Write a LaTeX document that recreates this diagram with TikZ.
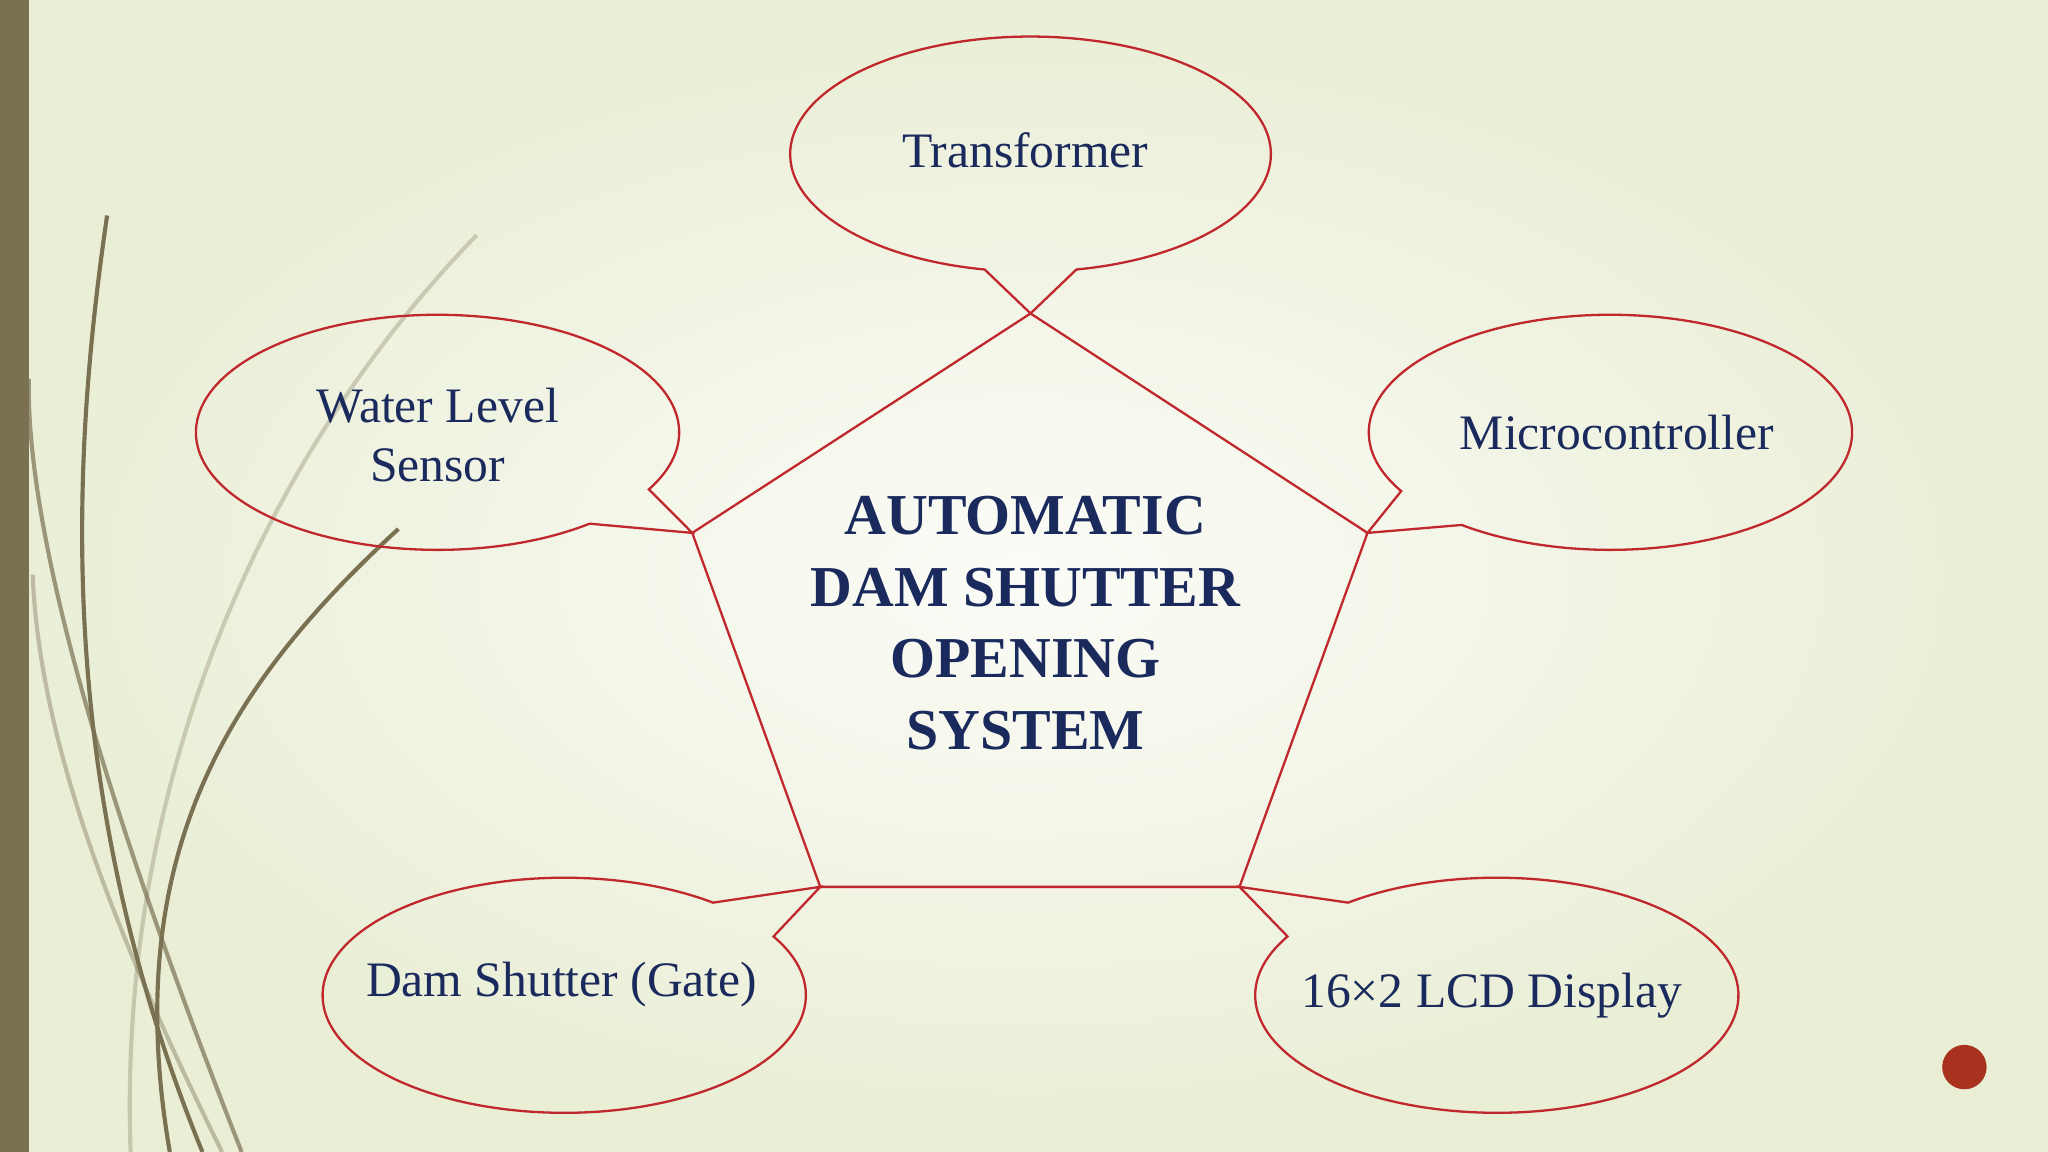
\documentclass[tikz,border=0pt]{standalone}
\usepackage{fontspec}
\setmainfont{Liberation Serif}
\begin{document}
\definecolor{bgcol}{HTML}{E9EED5}
\definecolor{bgmid}{HTML}{FBFCF7}
\definecolor{barcol}{HTML}{7A7052}
\definecolor{redline}{HTML}{C0282D}
\definecolor{navy}{HTML}{1B2A5C}
\definecolor{dotcol}{HTML}{A8321E}
\begin{tikzpicture}[x=0.01cm, y=-0.01cm,
    callout/.style={draw=redline, line width=0.5pt},
    label/.style={text=navy, font=\fontsize{10.8}{13}\selectfont, align=center},
    title/.style={text=navy, font=\fontsize{12.6}{15.6}\selectfont\bfseries, align=center},
    stem/.style={draw=barcol, line width=0.9pt}]
  % background
  \shade[inner color=bgmid, outer color=bgcol] (0,0) rectangle (1568,882);
  \useasboundingbox (0,0) rectangle (1568,882);
  \fill[barcol] (0,0) rectangle (22,882);
  % grass stems
  \draw[stem] (155,882) .. controls (40,600) and (55,350) .. (82,165);
  \draw[stem, opacity=0.7] (185,882) .. controls (90,640) and (20,420) .. (22,290);
  \draw[stem] (130,882) .. controls (90,650) and (180,520) .. (305,405);
  \draw[stem, opacity=0.3] (100,882) .. controls (90,600) and (200,350) .. (365,180);
  \draw[stem, opacity=0.4] (170,882) .. controls (80,700) and (30,560) .. (25,440);
  % pentagon
  \coordinate (top) at (789,240);
  \coordinate (right) at (1047,408);
  \coordinate (lowright) at (949,679);
  \coordinate (lowleft) at (628,679);
  \coordinate (left) at (530,408);
  \draw[callout] (top) -- (right) -- (lowright) -- (lowleft) -- (left) -- cycle;
  \node[title] (sys) at (785,477) {AUTOMATIC\\DAM SHUTTER\\OPENING\\SYSTEM};
  % callouts
  \coordinate (trafo) at (789,118);
  \coordinate (sensor) at (335,331);
  \coordinate (micro) at (1233,331);
  \coordinate (gate) at (432,762);
  \coordinate (lcd) at (1146,762);
  \draw[callout] ([shift={(101:184 and 90)}]trafo) arc[start angle=101, end angle=439, x radius=184, y radius=90] -- (top) -- cycle;
  \draw[callout] ([shift={(51:185 and 90)}]sensor) arc[start angle=51, end angle=389, x radius=185, y radius=90] -- (left) -- cycle;
  \draw[callout] ([shift={(150:185 and 90)}]micro) arc[start angle=150, end angle=488, x radius=185, y radius=90] -- (right) -- cycle;
  \draw[callout] ([shift={(330:185 and 90)}]gate) arc[start angle=330, end angle=668, x radius=185, y radius=90] -- (lowleft) -- cycle;
  \draw[callout] ([shift={(232:185 and 90)}]lcd) arc[start angle=232, end angle=570, x radius=185, y radius=90] -- (lowright) -- cycle;
  \node[label] (trafotext) at (785,115) {Transformer};
  \node[label] (sensortext) at (335,333) {Water Level\\Sensor};
  \node[label] (microtext) at (1238,331) {Microcontroller};
  \node[label] (gatetext) at (430,754) {Dam Shutter (Gate)};
  \node[label] (lcdtext) at (1142,762) {16×2 LCD Display};
  \fill[dotcol] (1504,817) circle (17);
\end{tikzpicture}
\end{document}
